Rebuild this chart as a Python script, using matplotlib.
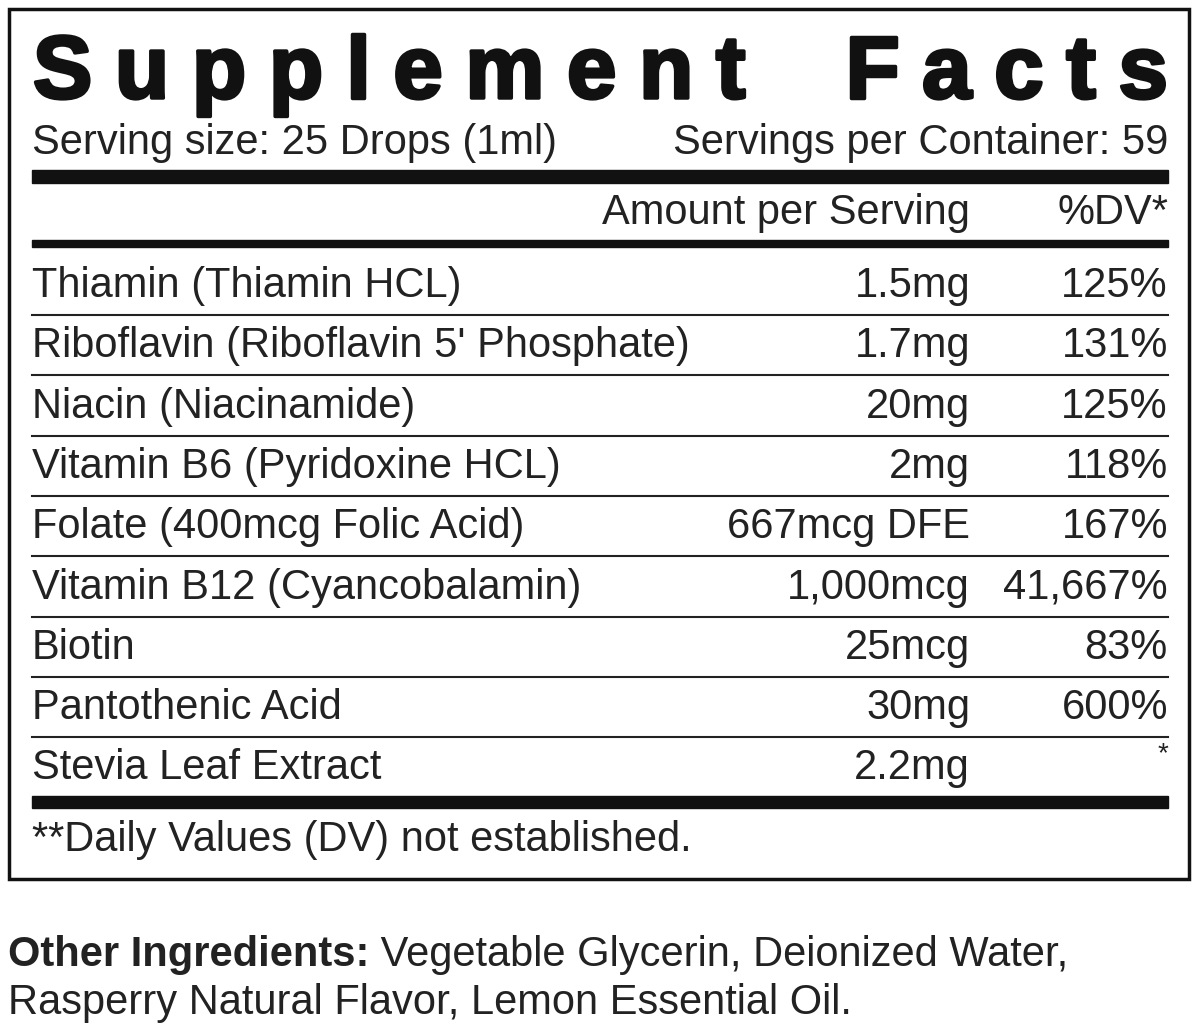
import matplotlib
matplotlib.use("Agg")
import matplotlib.pyplot as plt

title = "Supplement Facts"
serving_size = "Serving size: 25 Drops (1ml)"
servings = "Servings per Container: 59"
names = ["Thiamin (Thiamin HCL)", "Riboflavin (Riboflavin 5' Phosphate)", "Niacin (Niacinamide)",
         "Vitamin B6 (Pyridoxine HCL)", "Folate (400mcg Folic Acid)", "Vitamin B12 (Cyancobalamin)",
         "Biotin", "Pantothenic Acid", "Stevia Leaf Extract"]
amounts = ["1.5mg", "1.7mg", "20mg", "2mg", "667mcg DFE", "1,000mcg", "25mcg", "30mg", "2.2mg"]
dvs = ["125%", "131%", "125%", "118%", "167%", "41,667%", "83%", "600%", "*"]
footnote = "**Daily Values (DV) not established."
other_label = "Other Ingredients:"
other_1 = " Vegetable Glycerin, Deionized Water,"
other_2 = "Rasperry Natural Flavor, Lemon Essential Oil."

plt.rcParams['font.family'] = ['Liberation Sans', 'DejaVu Sans']
fig = plt.figure(figsize=(12, 10.34), dpi=100)
ax = fig.add_axes([0, 0, 1, 1])
ax.set_xlim(0, 1200); ax.set_ylim(1034, 0); ax.axis('off')

ax.add_patch(plt.Rectangle((9, 9), 1180, 870, fill=False, lw=2.5, ec='#111'))

fig.canvas.draw()
r = fig.canvas.get_renderer()
fs_t = 64
widths = []
for ch in title:
    t = ax.text(0, 0, ch if ch != ' ' else 'n', fontsize=fs_t, fontweight='heavy')
    widths.append(t.get_window_extent(r).width)
    t.remove()
x0, x1 = 33, 1168
gap = (x1 - x0 - sum(widths)) / (len(title) - 1)
x = x0
for ch, w in zip(title, widths):
    if ch != ' ':
        ax.text(x, 98, ch, fontsize=fs_t, fontweight='heavy', va='baseline', ha='left', color='#111',
                path_effects=[__import__('matplotlib.patheffects', fromlist=['x']).withStroke(linewidth=2.5, foreground='#111')])
    x += w + gap

fs = 30
ax.text(32, 143, serving_size, fontsize=fs, va='center', color='#222')
ax.text(1168, 143, servings, fontsize=fs, va='center', ha='right', color='#222')
ax.add_patch(plt.Rectangle((32, 170), 1136, 13, color='#111'))
ax.text(970, 213, "Amount per Serving", fontsize=fs, va='center', ha='right', color='#222')
ax.text(1168, 213, "%DV*", fontsize=fs, va='center', ha='right', color='#222')
ax.add_patch(plt.Rectangle((32, 240), 1136, 7, color='#111'))

for i, (n, a, d) in enumerate(zip(names, amounts, dvs)):
    yc = 286 + i * 60.3
    ax.text(32, yc, n, fontsize=fs, va='center', color='#222')
    ax.text(970, yc, a, fontsize=fs, va='center', ha='right', color='#222')
    if d == '*':
        ax.text(1168, yc - 14, d, fontsize=20, va='center', ha='right', color='#222')
    else:
        ax.text(1168, yc, d, fontsize=fs, va='center', ha='right', color='#222')
    if i < len(names) - 1:
        ax.plot([32, 1168], [yc + 29, yc + 29], color='#222', lw=1.5)
ax.add_patch(plt.Rectangle((32, 796), 1136, 12, color='#111'))
ax.text(32, 840, footnote, fontsize=fs, va='center', color='#222')

t = ax.text(8, 955, other_label, fontsize=fs, fontweight='bold', va='center', color='#222')
w = t.get_window_extent(r).width
ax.text(8 + w, 955, other_1, fontsize=fs, va='center', color='#222')
ax.text(8, 1003, other_2, fontsize=fs, va='center', color='#222')

fig.savefig("out.png", dpi=100, facecolor='white')
